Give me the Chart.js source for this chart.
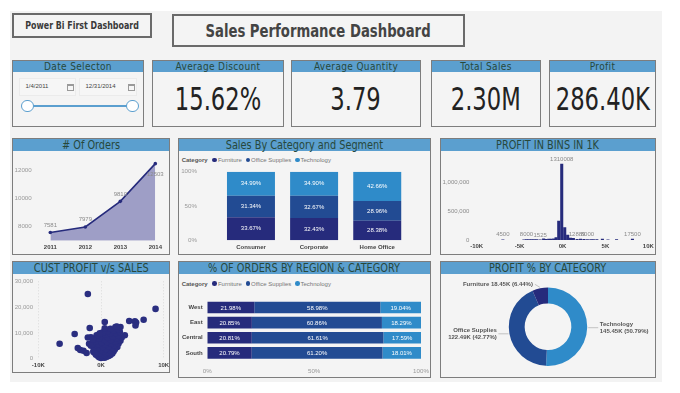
<!DOCTYPE html>
<html><head><meta charset="utf-8">
<script src="https://cdn.jsdelivr.net/npm/chart.js@4.4.1/dist/chart.umd.min.js"></script>
<style>
html,body{margin:0;padding:0;background:#fff;}
body{width:680px;height:393px;position:relative;overflow:hidden;font-family:'DejaVu Sans Condensed','DejaVu Sans',sans-serif;}
.abs{position:absolute;}
#bg{left:10px;top:11px;width:652px;height:371px;background:#f3f3f3;}
.box{position:absolute;box-sizing:border-box;border:1.5px solid #7d7d7d;background:#f4f4f4;}
.hdr{position:absolute;left:0;top:0;right:0;background:#5b9fcf;color:#27483b;display:flex;justify-content:center;align-items:center;white-space:nowrap;}
.kh{height:11px;font-size:10px;letter-spacing:0.35px;}
.ph{height:11.5px;font-size:12.3px;}
.ph span{display:inline-block;transform:scaleX(0.88);}
.kv{position:absolute;left:0;right:0;top:11px;bottom:0;display:flex;align-items:center;justify-content:center;font-size:31.5px;color:#222;white-space:nowrap;}
.kv span{display:inline-block;transform:scaleX(0.8);}
.cw{position:absolute;}
.legend{position:absolute;font-family:'Liberation Sans',Arial,sans-serif;font-size:6px;color:#777;white-space:nowrap;line-height:8px;}
.legend b{color:#555;margin-right:1px;}
.dot{display:inline-block;width:4.6px;height:4.6px;border-radius:50%;margin:0 1px 0 3.6px;vertical-align:0px;}
.inp{position:absolute;box-sizing:border-box;background:#f6f6f6;border:1px solid #ebebeb;font-family:'Liberation Sans',Arial,sans-serif;font-size:6px;color:#444;line-height:15px;}
.cal{position:absolute;width:5px;height:4px;border:1px solid #9a9a9a;border-top-width:2px;box-sizing:content-box;}
.ttl{position:absolute;box-sizing:border-box;border:2px solid #6a6a6a;background:#f4f4f4;display:flex;align-items:center;justify-content:center;white-space:nowrap;font-weight:bold;}
.ttl span{display:inline-block;}
</style></head>
<body>
<div id="bg" class="abs"></div>

<div class="ttl" style="left:12px;top:13px;width:140px;height:25px;font-size:11px;color:#3a3a3a;"><span style="transform:scaleX(0.8)">Power Bi First Dashboard</span></div>
<div class="ttl" style="left:172px;top:14px;width:293px;height:33px;font-size:17.5px;color:#444;"><span style="transform:scaleX(0.84)">Sales Performance Dashboard</span></div>

<!-- KPI row -->
<div class="box" style="left:12px;top:60px;width:132px;height:67px;"><div class="hdr kh">Date Selecton</div></div>
<div class="inp" style="left:19px;top:78px;width:57px;height:17.5px;padding-left:5.5px;">1/4/2011</div>
<div class="cal" style="left:67px;top:84px;"></div>
<div class="inp" style="left:79px;top:78px;width:58px;height:17.5px;padding-left:5.5px;">12/31/2014</div>
<div class="cal" style="left:128px;top:84px;"></div>
<div class="abs" style="left:27px;top:105.3px;width:106px;height:1.5px;background:#5b9fcf;"></div>
<div class="abs" style="left:21px;top:99.7px;width:12.6px;height:12.6px;box-sizing:border-box;border-radius:50%;background:#fff;border:1.3px solid #5b9fcf;"></div>
<div class="abs" style="left:126.4px;top:99.7px;width:12.6px;height:12.6px;box-sizing:border-box;border-radius:50%;background:#fff;border:1.3px solid #5b9fcf;"></div>

<div class="box" style="left:152px;top:60px;width:132px;height:67px;"><div class="hdr kh" id="h0"></div><div class="kv"><span id="k0"></span></div></div>
<div class="box" style="left:291px;top:60px;width:130px;height:67px;"><div class="hdr kh" id="h1"></div><div class="kv"><span id="k1"></span></div></div>
<div class="box" style="left:431px;top:60px;width:110px;height:67px;"><div class="hdr kh" id="h2"></div><div class="kv"><span id="k2"></span></div></div>
<div class="box" style="left:549px;top:60px;width:107px;height:67px;"><div class="hdr kh" id="h3"></div><div class="kv"><span id="k3"></span></div></div>

<!-- row 2 panels -->
<div class="box" style="left:12px;top:138px;width:158px;height:117px;"><div class="hdr ph"><span># Of Orders</span></div></div>
<div class="box" style="left:178px;top:138px;width:253px;height:117px;"><div class="hdr ph"><span>Sales By Category and Segment</span></div></div>
<div class="box" style="left:440px;top:138px;width:216px;height:117px;"><div class="hdr ph"><span>PROFIT IN BINS IN 1K</span></div></div>
<!-- row 3 panels -->
<div class="box" style="left:12px;top:261px;width:158px;height:112px;"><div class="hdr ph"><span>CUST PROFIT v/s SALES</span></div></div>
<div class="box" style="left:178px;top:261px;width:253px;height:117px;"><div class="hdr ph"><span>% OF ORDERS BY REGION &amp; CATEGORY</span></div></div>
<div class="box" style="left:440px;top:261px;width:216px;height:117px;"><div class="hdr ph"><span>PROFIT % BY CATEGORY</span></div></div>

<div class="legend" id="leg1" style="left:181.7px;top:156.3px;"></div>
<div class="legend" id="leg2" style="left:181.7px;top:280px;"></div>

<div class="cw" style="left:12px;top:151px;width:158px;height:103px;"><canvas id="cOrders"></canvas></div>
<div class="cw" style="left:178px;top:151px;width:253px;height:103px;"><canvas id="cSeg"></canvas></div>
<div class="cw" style="left:440px;top:151px;width:216px;height:103px;"><canvas id="cBins"></canvas></div>
<div class="cw" style="left:12px;top:274px;width:158px;height:99px;"><canvas id="cScatter"></canvas></div>
<div class="cw" style="left:178px;top:290px;width:253px;height:88px;"><canvas id="cRegion"></canvas></div>
<div class="cw" style="left:440px;top:274px;width:216px;height:103px;"><canvas id="cProfit"></canvas></div>

<script>
// ---------- DATA ----------
const kpiLabels = ['Average Discount','Average Quantity','Total Sales','Profit'];
const kpiValues = ['15.62%','3.79','2.30M','286.40K'];

const orderYears = ['2011','2012','2013','2014'];
const orderCounts = [7581, 7979, 9810, 12503];

const categories = ['Furniture','Office Supplies','Technology'];
const segments = ['Consumer','Corporate','Home Office'];
const segFurniture = [33.67, 32.43, 28.38];
const segOffice = [31.34, 32.67, 28.96];
const segTech = [34.99, 34.90, 42.66];

const binX = [-6950,-4500,-4200,-3900,-3600,-3300,-3000,-2600,-2200,-1900,-1600,-1300,-1000,-750,-440,-90,260,600,930,1270,1700,2100,2500,2900,3300,3600,4000,4650,5300,6300,8150];
const binCount = [4500,5000,8000,6000,7000,6500,9000,1525,22000,10000,14000,16000,22000,40000,328000,1310008,212000,86000,34000,28000,12889,15000,10000,8000,6000,9000,6000,14000,5000,9000,17500];
const binLabelled = [4500,8000,1525,1310008,12889,17500];

const custProfit = [-2100,8700,6800,4500,5400,5600,5500,600,2300,2600,3800,-4200,-6600,-1800,-2100,-1600,-700,100,-3700,-3300,-2800,-2300,-1200,-1900,
  0,300,600,-300,900,1200,-500,200,500,1500,-800,800,1800,-200,1100,400,2000,-1000,1500,0,2200,800,-600,1800,2600,300,1200,-1100,2200,700,-400,1600,2800,100,1000,2300,-900,3100,1600,500,-300,2500,1100,3300,0,1900,2800,700,-600,1500,2400,3000,1000,300,2000,2800,1500,3100,2500,-1300,-1600,-1200,-900,600,-200];
const custSales = [25100,19300,15100,14600,14500,14000,12900,14200,12300,12300,9100,9600,5800,11900,8200,8300,9100,9700,4100,3400,3100,2200,2600,5800,
  300,500,400,600,800,1000,1000,1200,1500,1400,1500,2000,2000,2200,2500,2800,2800,2600,3200,3400,3600,3800,3800,4200,4500,4600,4800,4400,5200,5400,5600,5800,5900,6300,6500,6600,6600,7000,7200,7300,7800,7800,8100,8200,8800,8600,9000,9300,9000,9800,10000,10400,10600,10200,11000,11500,11600,12300,12500,7300,5000,3000,2000,11800,9800];

const regions = ['West','East','Central','South'];
const regFurniture = [21.98, 20.85, 20.81, 20.79];
const regOffice = [58.98, 60.86, 61.61, 61.20];
const regTech = [19.04, 18.29, 17.59, 18.01];

const profitCats = ['Technology','Office Supplies','Furniture'];
const profitK = [145.45, 122.49, 18.45];

// ---------- KPI text ----------
kpiLabels.forEach((l,i)=>{ document.getElementById('h'+i).textContent = l; document.getElementById('k'+i).textContent = kpiValues[i]; });

// ---------- colours ----------
const NAVY='#262b7c', MID='#224b93', LIGHT='#2f8bc9';
const catColors = [NAVY, MID, LIGHT];

function buildLegend(id){
  const el = document.getElementById(id);
  let h = '<b>Category</b>';
  categories.forEach((c,i)=>{ h += '<span class="dot" style="background:'+catColors[i]+'"></span>'+c; });
  el.innerHTML = h;
}
buildLegend('leg1'); buildLegend('leg2');

// ---------- Chart defaults ----------
Chart.defaults.font.family = "'Liberation Sans', Arial, sans-serif";
Chart.defaults.animation = false;
Chart.defaults.plugins.legend.display = false;
Chart.defaults.plugins.tooltip.enabled = false;
Chart.defaults.responsive = true;
Chart.defaults.maintainAspectRatio = false;

const noGrid = {display:false, drawTicks:false};
const noBorder = {display:false};
const fixW = w => s => { s.width = w; s.paddingTop = 0; s.paddingBottom = 0; s.paddingLeft = 0; s.paddingRight = 0; };
const fixH = h => s => { s.height = h; s.paddingTop = 0; s.paddingBottom = 0; s.paddingLeft = 0; s.paddingRight = 0; };
const setTicks = arr => s => { s.ticks = arr.map(v=>({value:v})); };
const mk = (id,cfg) => new Chart(document.getElementById(id), cfg);

const barLabels = {
  id:'barLabels',
  afterDatasetsDraw(c){
    const ctx = c.ctx; const horiz = c.options.indexAxis === 'y';
    ctx.save(); ctx.font = "6px 'Liberation Sans', Arial, sans-serif"; ctx.fillStyle = '#fff';
    ctx.textAlign = 'center'; ctx.textBaseline = 'middle';
    c.data.datasets.forEach((ds,di)=>{
      c.getDatasetMeta(di).data.forEach((el,i)=>{
        const t = ds.data[i].toFixed(2)+'%';
        if (horiz) ctx.fillText(t, (el.x+el.base)/2, el.y+0.5);
        else ctx.fillText(t, el.x, (el.y+el.base)/2);
      });
    });
    ctx.restore();
  }
};

// 1. Orders
mk('cOrders', {
  type:'line',
  data:{labels:orderYears, datasets:[{data:orderCounts, borderColor:NAVY, borderWidth:1.6, pointRadius:1.8, pointBackgroundColor:NAVY, pointBorderWidth:0, fill:'start', backgroundColor:'#9e9ec6', tension:0}]},
  options:{
    layout:{padding:{left:0,right:14.7,top:5.7,bottom:0}},
    scales:{
      x:{offset:false, grid:noGrid, border:noBorder, ticks:{color:'#444', font:{size:6, weight:'bold'}, padding:3, maxRotation:0, autoSkip:false}, afterFit:fixH(13.3)},
      y:{min:7000, max:13000, afterBuildTicks:setTicks([8000,10000,12000]), grid:noGrid, border:noBorder, ticks:{color:'#999', font:{size:6.2}, padding:18.6, callback:v=>String(v)}, afterFit:fixW(38.3)}
    }
  },
  plugins:[{id:'ordLbl', afterDatasetsDraw(c){
    const ctx=c.ctx, m=c.getDatasetMeta(0);
    ctx.save(); ctx.font="6px 'Liberation Sans', Arial, sans-serif"; ctx.fillStyle='#8a8a8a'; ctx.textAlign='center';
    m.data.forEach((p,i)=>{
      const last = i===m.data.length-1;
      ctx.textBaseline = last ? 'top' : 'bottom';
      ctx.fillText(String(orderCounts[i]), p.x, last ? p.y+7.5 : p.y-4.5);
    });
    ctx.restore();
  }}]
});

// 2. Sales by category and segment
mk('cSeg', {
  type:'bar',
  data:{labels:segments, datasets:[
    {label:categories[0], data:segFurniture, backgroundColor:NAVY},
    {label:categories[1], data:segOffice, backgroundColor:MID},
    {label:categories[2], data:segTech, backgroundColor:LIGHT}]},
  options:{
    layout:{padding:{left:0,right:22.2,top:20.7,bottom:0}},
    datasets:{bar:{categoryPercentage:1, barPercentage:0.76}},
    scales:{
      x:{stacked:true, grid:noGrid, border:noBorder, ticks:{color:'#444', font:{size:6, weight:'bold'}, padding:3, maxRotation:0}, afterFit:fixH(13.7)},
      y:{stacked:true, min:0, max:100, afterBuildTicks:setTicks([0,50,100]), grid:noGrid, border:noBorder, ticks:{color:'#999', font:{size:6.2}, padding:22.4, callback:v=>v+'%'}, afterFit:fixW(41.4)}
    }
  },
  plugins:[barLabels]
});

// 3. Profit bins
mk('cBins', {
  type:'bar',
  data:{datasets:[{data:binX.map((x,i)=>({x:x, y:binCount[i]})), backgroundColor:NAVY, barThickness:2.4}]},
  options:{
    layout:{padding:{left:0,right:7.7,top:7.8,bottom:0}},
    scales:{
      x:{type:'linear', offset:false, min:-10000, max:10000, afterBuildTicks:setTicks([-10000,-5000,0,5000,10000]), grid:{display:false, drawTicks:false, offset:false}, border:noBorder, ticks:{color:'#444', font:{size:6, weight:'bold'}, padding:2.5, callback:v=>(v/1000)+'K'}, afterFit:fixH(14)},
      y:{min:0, max:1400000, afterBuildTicks:setTicks([0,500000,1000000]), grid:noGrid, border:noBorder, ticks:{color:'#8a8a8a', font:{size:6}, padding:7.4, callback:v=>v.toLocaleString('en-US')}, afterFit:fixW(36.7)}
    }
  },
  plugins:[{id:'binLbl', afterDatasetsDraw(c){
    const ctx=c.ctx, m=c.getDatasetMeta(0);
    ctx.save(); ctx.font="6px 'Liberation Sans', Arial, sans-serif"; ctx.fillStyle='#8a8a8a'; ctx.textAlign='center'; ctx.textBaseline='bottom';
    m.data.forEach((el,i)=>{ if (binLabelled.includes(binCount[i])) ctx.fillText(String(binCount[i]), el.x, el.y-2); });
    ctx.restore();
  }}]
});

// 4. Customer profit vs sales
mk('cScatter', {
  type:'scatter',
  data:{datasets:[{data:custProfit.map((x,i)=>({x:x, y:custSales[i]})), backgroundColor:'#2a2e80', pointRadius:3.3, pointBorderWidth:0, clip:false}]},
  options:{
    layout:{padding:{left:0,right:6.3,top:7.3,bottom:0}},
    scales:{
      x:{type:'linear', min:-10000, max:10000, afterBuildTicks:setTicks([-10000,0,10000]), grid:{display:true, drawTicks:false, color:'#d4d4d4', lineWidth:0.8}, border:{display:false, dash:[1,2]}, ticks:{color:'#444', font:{size:6, weight:'bold'}, padding:3, callback:v=>(v/1000)+'K'}, afterFit:fixH(14.3)},
      y:{min:0, max:30000, afterBuildTicks:setTicks([0,10000,20000,30000]), grid:noGrid, border:noBorder, ticks:{color:'#999', font:{size:6}, padding:5.3, callback:v=>v.toLocaleString('en-US')}, afterFit:fixW(26.3)}
    }
  }
});

// 5. Orders by region & category
mk('cRegion', {
  type:'bar',
  data:{labels:regions, datasets:[
    {label:categories[0], data:regFurniture, backgroundColor:NAVY},
    {label:categories[1], data:regOffice, backgroundColor:MID},
    {label:categories[2], data:regTech, backgroundColor:LIGHT}]},
  options:{
    indexAxis:'y',
    layout:{padding:{left:0,right:10,top:10,bottom:0}},
    datasets:{bar:{categoryPercentage:1, barPercentage:0.77}},
    scales:{
      x:{stacked:true, min:0, max:100, afterBuildTicks:setTicks([0,50,100]), grid:noGrid, border:noBorder, ticks:{color:'#999', font:{size:6.2}, padding:7, callback:v=>v+'%'}, afterFit:fixH(17.6)},
      y:{stacked:true, grid:noGrid, border:noBorder, ticks:{color:'#444', font:{size:6, weight:'bold'}, padding:4.6}, afterFit:fixW(29.3)}
    }
  },
  plugins:[barLabels]
});

// 6. Profit % by category
const profitTotal = profitK.reduce((a,b)=>a+b,0);
mk('cProfit', {
  type:'doughnut',
  data:{labels:profitCats, datasets:[{data:profitK, backgroundColor:[LIGHT, MID, NAVY], borderWidth:0}]},
  options:{cutout:'59.5%', layout:{padding:{left:68.8,right:68.8,top:13.5,bottom:11.1}}},
  plugins:[{id:'donutLbl', afterDatasetsDraw(c){
    const ctx=c.ctx, m=c.getDatasetMeta(0);
    ctx.save(); ctx.font="bold 6px 'Liberation Sans', Arial, sans-serif"; ctx.fillStyle='#555';
    ctx.strokeStyle='#b5b5b5'; ctx.lineWidth=0.8; ctx.textBaseline='middle';
    m.data.forEach((arc,i)=>{
      const mid=(arc.startAngle+arc.endAngle)/2, r=arc.outerRadius+1;
      const ax=arc.x+Math.cos(mid)*r, ay=arc.y+Math.sin(mid)*r;
      const dir = Math.cos(mid)>=0 ? 1 : -1;
      const val = profitK[i].toFixed(2)+'K ('+(profitK[i]/profitTotal*100).toFixed(2)+'%)';
      ctx.textAlign = dir>0 ? 'left' : 'right';
      if (Math.abs(Math.sin(mid))>0.9){
        const bx=ax+dir*5, by=ay-3;
        ctx.beginPath(); ctx.moveTo(ax,ay); ctx.lineTo(bx,by); ctx.stroke();
        ctx.fillText(profitCats[i]+' '+val, bx+dir*2, by);
      } else {
        const bx=ax+dir*10;
        ctx.beginPath(); ctx.moveTo(ax,ay); ctx.lineTo(bx,ay); ctx.stroke();
        ctx.fillText(profitCats[i], bx+dir*1.6, ay-3.8);
        ctx.fillText(val, bx+dir*1.6, ay+4);
      }
    });
    ctx.restore();
  }}]
});
</script>
</body></html>
